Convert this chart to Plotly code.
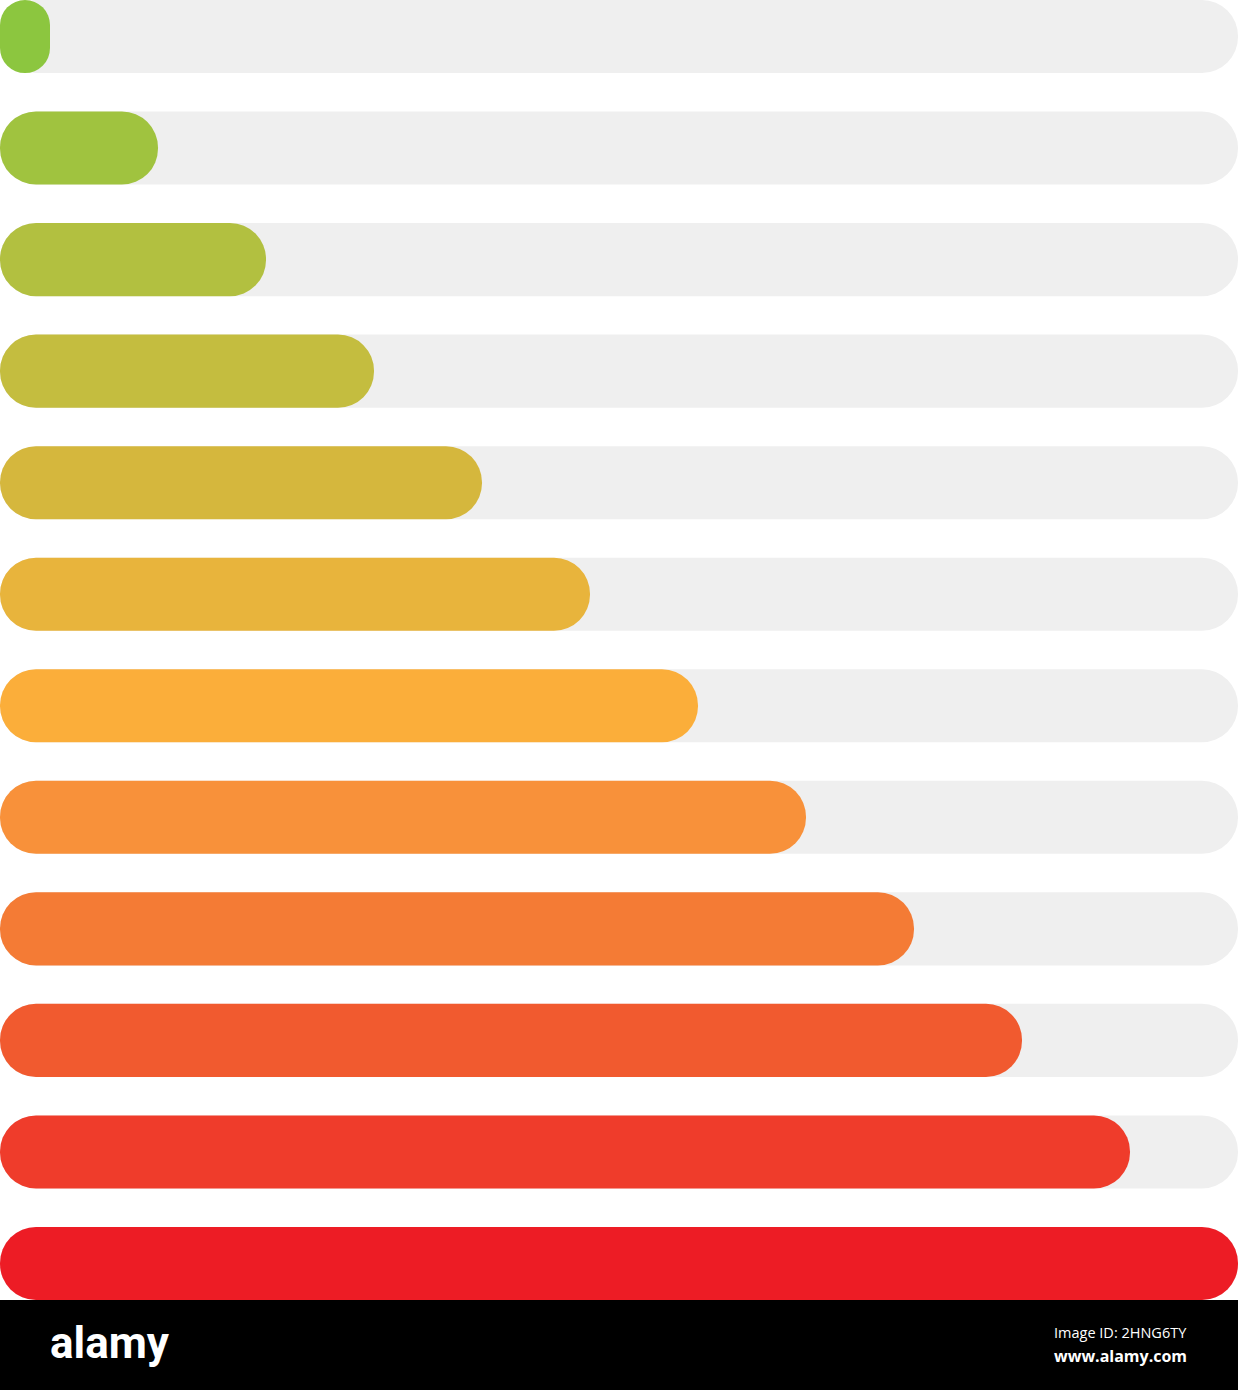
import plotly.graph_objects as go

# Data
rows = list(range(12))
values = [50, 158, 266, 374, 482, 590, 698, 806, 914, 1022, 1130, 1238]
track_max = 1238
colors = ["#8cc63f", "#a0c33f", "#b2c040", "#c4bd3f", "#d5b73d", "#e8b43c",
          "#fbae3a", "#f8913a", "#f47b35", "#f15a2f", "#ef3c2b", "#ed1c25"]
track_color = "#efefef"

W, H = 1238, 1390
footer_h = 90
bar_w = 0.655

fig = go.Figure()

# grey tracks (base set so both ends are rounded)
fig.add_trace(go.Bar(y=rows, x=[track_max] * len(rows), base=[0] * len(rows), orientation="h",
                     width=bar_w, marker=dict(color=track_color, cornerradius="50%", line=dict(width=0)),
                     hoverinfo="skip", showlegend=False))
# coloured progress bars
fig.add_trace(go.Bar(y=rows, x=values, base=[0] * len(rows), orientation="h", width=bar_w,
                     marker=dict(color=colors, cornerradius="50%", line=dict(width=0)),
                     hoverinfo="skip", showlegend=False))

fig.update_layout(
    width=W, height=H,
    margin=dict(l=0, r=0, t=0, b=0),
    paper_bgcolor="white", plot_bgcolor="white",
    barmode="overlay",
    xaxis=dict(range=[0, track_max], visible=False, fixedrange=True),
    yaxis=dict(range=[11 + bar_w / 2, -bar_w / 2], visible=False,
               domain=[footer_h / H, 1], fixedrange=True),
    shapes=[dict(type="rect", xref="paper", yref="paper", x0=0, x1=1, y0=0, y1=footer_h / H,
                 fillcolor="black", line=dict(width=0), layer="above")],
    annotations=[
        dict(text="<b>alamy</b>", xref="paper", yref="paper", x=48 / W, y=(H - 1343) / H,
             xanchor="left", yanchor="middle", showarrow=False,
             font=dict(family="Roboto, sans-serif", size=44, color="white")),
        dict(text="Image ID: 2HNG6TY", xref="paper", yref="paper", x=1189 / W, y=(H - 1332) / H,
             xanchor="right", yanchor="middle", showarrow=False,
             font=dict(family="Open Sans, sans-serif", size=14.5, color="white")),
        dict(text="<b>www.alamy.com</b>", xref="paper", yref="paper", x=1189 / W, y=(H - 1356) / H,
             xanchor="right", yanchor="middle", showarrow=False,
             font=dict(family="Open Sans, sans-serif", size=16, color="white")),
    ],
)

fig.write_html("out.html", config={"displayModeBar": False},
               post_script="document.body.style.margin='0';document.body.style.padding='0';")
